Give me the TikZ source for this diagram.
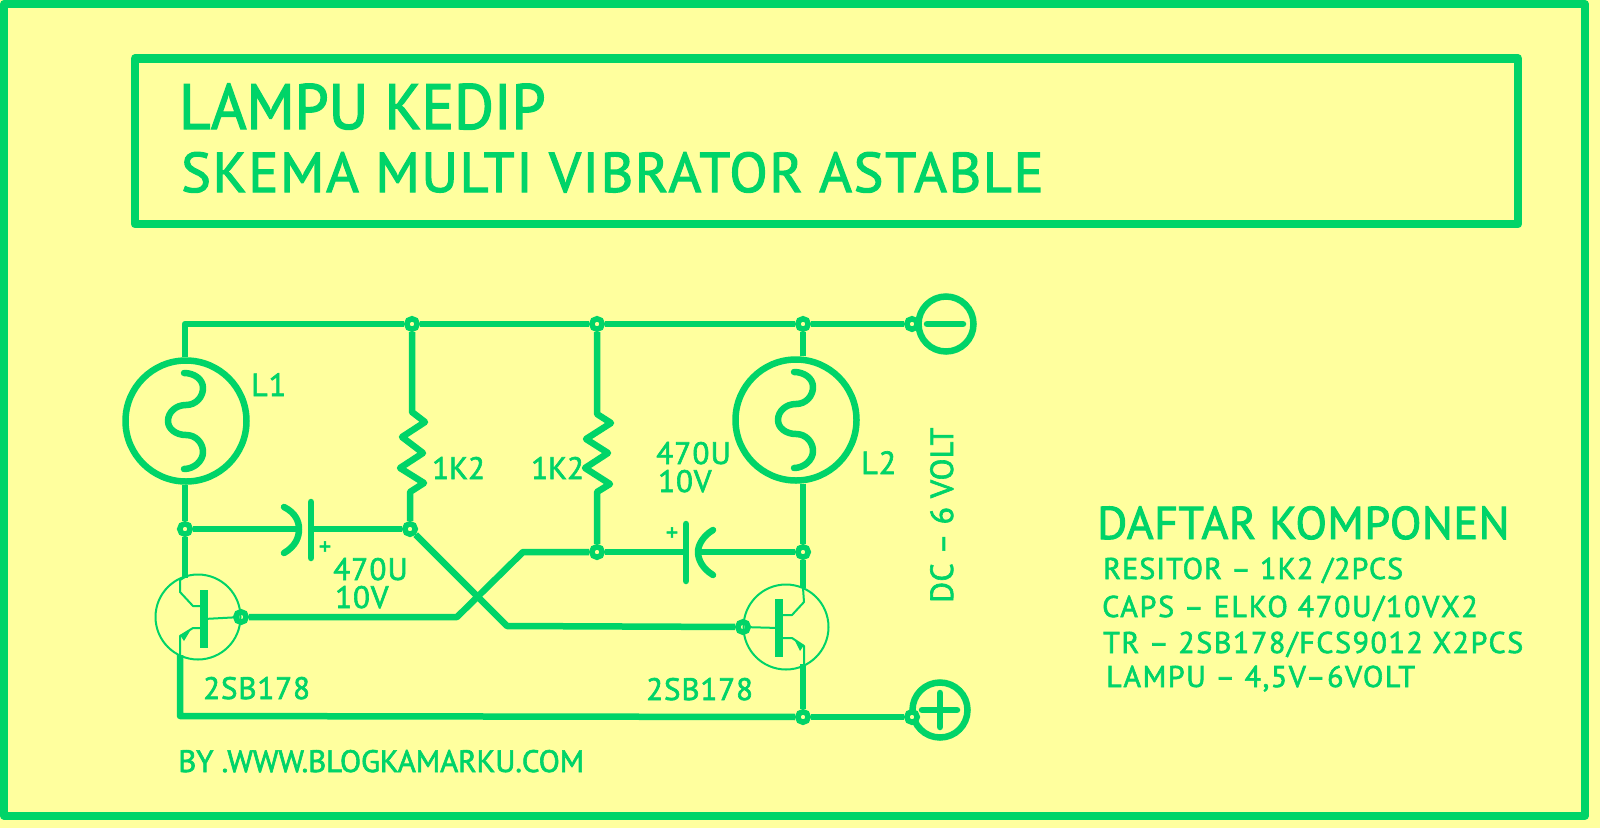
\documentclass[tikz,border=0pt]{standalone}
\usepackage{fontspec}
\setmainfont{PT Sans}
\definecolor{skemagreen}{HTML}{00D468}
\definecolor{skemapaper}{HTML}{FFFF9E}
\newcommand{\lbl}[2]{\fontsize{#1}{#1}\addfontfeature{LetterSpace=#2,FakeBold=2}\selectfont}
\begin{document}
\begin{tikzpicture}[x=1pt,y=-1pt]
\tikzset{wire/.style={draw=skemagreen, line width=6.5pt, line join=round},
  thinwire/.style={draw=skemagreen, line width=2pt, line join=round},
  lamp/.style={draw=skemagreen, circle, line width=6.5pt, minimum size=121pt, inner sep=0pt},
  terminal/.style={draw=skemagreen, circle, line width=6.5pt, minimum size=55pt, inner sep=0pt},
  tranny/.style={draw=skemagreen, circle, line width=2pt, minimum size=85pt, inner sep=0pt},
  junc/.style={draw=skemagreen, fill=skemapaper, circle, line width=5.5pt, minimum size=10.5pt, inner sep=0pt},
  plate/.style={fill=skemagreen, minimum width=8pt, minimum height=58pt, inner sep=0pt},
  txt/.style={text=skemagreen, inner sep=0pt, anchor=base west},
  filament/.pic={\draw[wire, line cap=round] (-2,-48)
    .. controls (8,-48) and (17,-42) .. (17,-33)
    .. controls (17,-24) and (10,-16) .. (0,-16)
    .. controls (-10,-16) and (-18,-9) .. (-18,0)
    .. controls (-18,8) and (-10,14) .. (0,14)
    .. controls (10,14) and (17,22) .. (17,31)
    .. controls (17,40) and (8,48) .. (-2,48);}}
\useasboundingbox (0,0) rectangle (1600,828);
\fill[skemapaper] (0,0) rectangle (1600,828);
\draw[draw=skemagreen, line width=8pt, line join=round] (4,4) rectangle (1585,815.5);
\draw[draw=skemagreen, line width=8.5pt, line join=round] (135,58.5) rectangle (1518,224);
\node[txt] (Title) at (179,129) {\lbl{64}{0}\addfontfeature{FakeStretch=0.95}LAMPU KEDIP};
\node[txt] (Subtitle) at (181,192) {\lbl{56}{3}SKEMA MULTI VIBRATOR ASTABLE};
% lamps and terminals
\node[lamp] (L1) at (186,421) {};
\node[lamp] (L2) at (796,420) {};
\pic at (L1) {filament};
\pic at (L2) {filament};
\node[terminal] (Minus) at (946,324) {};
\node[terminal] (Plus) at (940,710) {};
\draw[wire, line cap=round] (927,324) -- (963,324);
\draw[wire, line cap=round] (922,710) -- (957,710);
\draw[wire, line cap=round] (940,693) -- (940,727);
% junctions
\node[junc] (J1) at (412,324) {};
\node[junc] (J2) at (597,324) {};
\node[junc] (J3) at (803,324) {};
\node[junc] (J4) at (912,324) {};
\node[junc] (J5) at (185,529) {};
\node[junc] (J6) at (410,529) {};
\node[junc] (J7) at (597,552) {};
\node[junc] (J8) at (803,552) {};
\node[junc] (J9) at (803,717) {};
\node[junc] (J10) at (912,717) {};
\node[junc] (B1) at (241,617) {};
\node[junc] (B2) at (743,627) {};
% transistors
\node[tranny] (T1) at (198,617) {};
\node[tranny] (T2) at (786,627) {};
\node[plate] (Bar1) at (204,619) {};
\node[plate] (Bar2) at (779,628) {};
\draw[thinwire] (B1) -- (Bar1);
\draw[thinwire] (B2) -- (Bar2);
\draw[thinwire] (185,577) -- (180,580) -- (180,592) -- (193,606) -- (201,606);
\draw[thinwire] (201,628) -- (193,628) -- (180,636) -- (180,655);
\draw[thinwire] (803,588) -- (804,602) -- (792,615) -- (783,615);
\draw[thinwire] (783,638) -- (792,638) -- (804,646) -- (804,664);
\fill[skemagreen] (180,635) -- (190,631) -- (184,641) -- cycle;
\fill[skemagreen] (804,645) -- (795,641) -- (800,651) -- cycle;
% wiring
\coordinate (TL) at (185,324);
\draw[wire] (L1.north -| TL) -- (TL) -- (J1);
\draw[wire] (J1) -- (J2);
\draw[wire] (J2) -- (J3);
\draw[wire] (J3) -- (J4);
\draw[wire] (J3) -- (J3 |- L2.north);
\draw[wire] (L1.south -| J5) -- (J5);
\draw[wire] (J5) -- (185,578);
\draw[wire] (J8 |- L2.south) -- (J8);
\draw[wire] (J8) -- (803,588);
\draw[wire] (803,664) -- (J9);
\draw[wire] (J9) -- (J10);
\coordinate (BL) at (180,716);
\draw[wire] (180,655) -- (BL) -- (J9);
% resistors
\draw[wire] (J1) -- (412,412) -- (425,422) -- (402,437) -- (423,453) -- (400,468) -- (424,483) -- (410,492) -- (J6);
\draw[wire] (J2) -- (597,414) -- (611,423) -- (586,439) -- (608,453) -- (585,468) -- (610,484) -- (597,492) -- (J7);
% capacitors
\draw[wire] (J5) -- (299,529);
\draw[wire, line cap=round] (284,507) .. controls (296,513) and (299,522) .. (299,529) .. controls (299,537) and (296,546) .. (284,553);
\draw[wire, line cap=round] (311,502) -- (311,558);
\draw[wire] (311,529) -- (J6);
\node[txt, anchor=center] (CapPlusA) at (325,548) {\lbl{24}{0}+};
\draw[wire] (J7) -- (686,552);
\draw[wire, line cap=round] (686,524) -- (686,581);
\draw[wire, line cap=round] (713,530) .. controls (703,536) and (698,545) .. (698,552) .. controls (698,560) and (703,569) .. (713,575);
\draw[wire] (698,552) -- (J8);
\node[txt, anchor=center] (CapPlusB) at (672,534) {\lbl{24}{0}+};
% crossing
\coordinate (X1) at (457,617);
\coordinate (X2) at (523,552);
\coordinate (X3) at (507,626);
\draw[wire] (B1) -- (X1) -- (X2) -- (J7);
\draw[wire] (J6) -- (X3) -- (B2);
% labels
\node[txt] (LL1) at (251,396) {\lbl{32}{3}L1};
\node[txt] (LL2) at (861,474) {\lbl{32}{3}L2};
\node[txt] (R1) at (432,479) {\lbl{31}{0}1K2};
\node[txt] (R2) at (531,479) {\lbl{31}{0}1K2};
\node[txt] (C1a) at (333,580) {\lbl{31}{4}470U};
\node[txt] (C1b) at (335,608) {\lbl{31}{3}10V};
\node[txt] (C2a) at (656,464) {\lbl{31}{4}470U};
\node[txt] (C2b) at (658,492) {\lbl{31}{3}10V};
\node[txt] (Q1) at (203,699) {\lbl{31}{3}2SB178};
\node[txt] (Q2) at (646,700) {\lbl{31}{3}2SB178};
\node[txt, rotate=90] (Volt) at (953,603) {\lbl{32}{1}DC -- 6 VOLT};
\node[txt] (Web) at (178,772) {\lbl{31}{-0.4}BY .WWW.BLOGKAMARKU.COM};
\node[txt] (List) at (1097,539) {\lbl{46}{1.2}DAFTAR KOMPONEN};
\node[txt] (Res) at (1103,579) {\lbl{30}{3.7}RESITOR -- 1K2 /2PCS};
\node[txt] (Caps) at (1102,617) {\lbl{30}{6}CAPS -- ELKO 470U/10VX2};
\node[txt] (Tr) at (1103,653) {\lbl{30}{5.4}TR -- 2SB178/FCS9012 X2PCS};
\node[txt] (Lampu) at (1106,687) {\lbl{30}{5.2}LAMPU -- 4,5V--6VOLT};
\end{tikzpicture}
\end{document}
